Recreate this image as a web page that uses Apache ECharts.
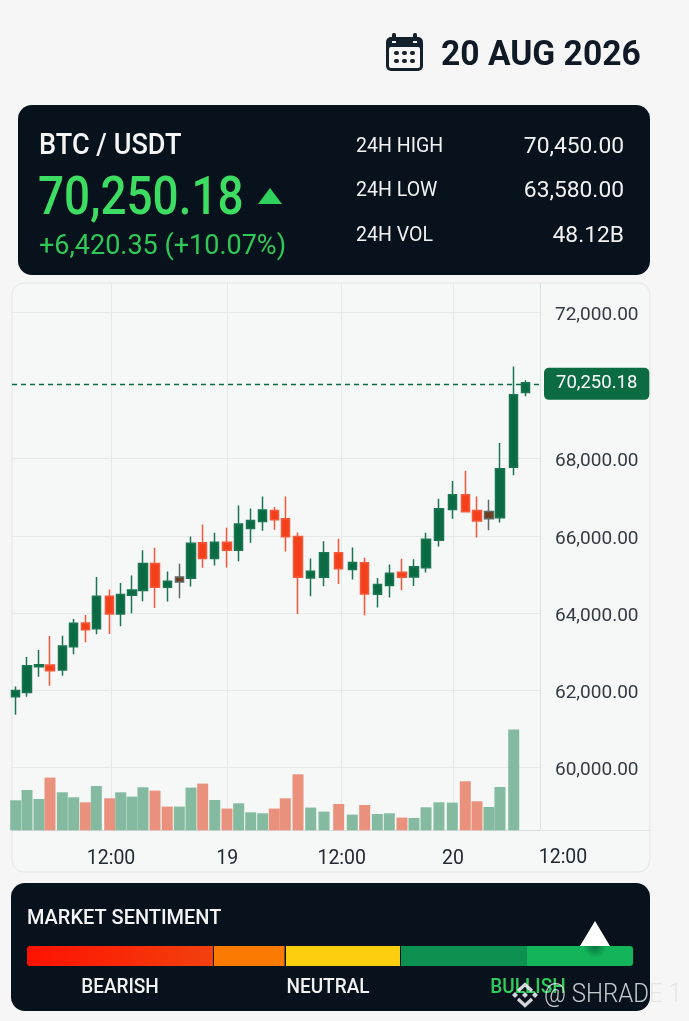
<!DOCTYPE html>
<html>
<head>
<meta charset="utf-8">
<style>html,body{margin:0;padding:0;background:#f6f6f6}#c{width:689px;height:1021px}</style>
<script src="https://cdn.jsdelivr.net/npm/echarts@6/dist/echarts.min.js"></script>
</head>
<body>
<div id="c"></div>
<script>
// hours from the first candle, read from each candle's position
const candleHours = [0,1.20,2.47,3.64,4.95,6.16,7.39,8.56,9.98,11.15,12.35,13.51,14.79,16.09,17.37,18.61,19.85,21.13,22.43,23.67,24.95,26.22,27.45,28.62,29.97,31.32,32.73,34.29,35.73,37.05,38.39,39.66,41.01,42.28,43.56,44.93,46.35,47.73,48.97,50.24,51.41,52.87,54.14];
// [open, close, low, high]
const candles = [
[61826,61990,61358,62094],[61938,62631,61826,62856],[62605,62657,62345,63038],[62648,62501,62111,63401],
[62518,63142,62371,63410],[63124,63730,62925,63843],[63739,63566,63237,63947],[63592,64432,63445,64934],
[64432,63973,63453,64605],[63973,64475,63652,64778],[64458,64596,63990,64968],[64579,65280,64302,65626],
[65280,64665,64129,65687],[64665,64821,64293,65072],[64934,64804,64380,65272],[64899,65808,64683,65981],
[65817,65410,65168,66293],[65410,65834,65228,66077],[65834,65626,65176,66207],[65626,66302,65341,66787],
[66189,66397,65817,66709],[66371,66665,66129,67020],[66657,66414,66155,66743],[66440,65973,65592,67021],
[65982,64925,63973,66085],[64908,65081,64432,65410],[64925,65557,64692,65860],[65557,65142,64752,65921],
[65124,65306,64865,65696],[65298,64492,63938,65427],[64484,64735,64137,64908],[64709,65029,64397,65254],
[65055,64925,64588,65401],[64934,65194,64700,65393],[65168,65912,65047,66077],[65886,66700,65722,66960],
[66683,67064,66440,67419],[67064,66622,66622,67687],[66657,66380,65956,67021],[66631,66440,66146,66934],
[66466,67739,66345,68406],[67774,69653,67566,70389],[69713,69964,69618,70034]
];
const mixedCandles = [14, 39];
const volumes = [30,40.3,31.3,52.7,38,33,28,44.3,32,38,33.7,43,39.7,23.7,23.7,42.7,46.7,30.3,21.7,27,18,17,21.7,32,56,22.7,18.7,26.3,15.7,25.3,16.3,17,12.7,12.3,23,28,27.7,49,29,23.3,43.3,100.7];
const volumeDown = [3,6,8,12,13,16,18,22,23,24,27,29,32,37,38];
// the reference's axis is not quite linear at the top: ticks sit where it draws them
const priceTicks = [60000,62000,64000,66000,68000,71800];
const priceTickLabels = ['60,000.00','62,000.00','64,000.00','66,000.00','68,000.00','72,000.00'];
const timeTicks = [10.12,22.46,34.61,46.42];
const timeLabels = ['12:00','19','12:00','20'];
const lastTimeLabel = '12:00';
const plottedLast = 69938;
const lastPriceText = '70,250.18';
const statRows = [['24H HIGH','70,450.00'],['24H LOW','63,580.00'],['24H VOL','48.12B']];
const sentimentLabels = [['BEARISH',120,'#f2f2f2'],['NEUTRAL',328,'#f2f2f2'],['BULLISH',528,'#2ecc5c']];

const F = 'Roboto';
const GREEN = '#0a6b43', RED = '#f4401a';
const DARK = '#07121c';

function txt(x, y, text, size, fill, weight, align, sx, z) {
  return {type:'text', x, y:y+2, scaleX:sx||1, z: z||10, style:{text, fontFamily:F, fontSize:size, fill, fontWeight:weight||400, align:align||'left', verticalAlign:'middle'}};
}
function rect(x, y, w, h, fill, r, extra) {
  return Object.assign({type:'rect', shape:{x,y,width:w,height:h,r:r||0}, style:{fill}}, extra||{});
}
function tri(cx, top, base, halfW, fill, z) {
  return {type:'polygon', z:z||10, shape:{points:[[cx,top],[cx+halfW,base],[cx-halfW,base]]}, style:{fill}};
}

const g = [];
g.push(rect(12,283,638,589,'#f6f7f7',12,{z:-10,style:{fill:'#f6f7f7',stroke:'#e3e5e7',lineWidth:1}}));
g.push(rect(18,105,632,170,DARK,14,{z:1}));
g.push(rect(11,883,639,128,DARK,14,{z:1}));
g.push({type:'line',z:1,shape:{x1:540,y1:830.5,x2:650,y2:830.5},style:{stroke:'#e3e5e7',lineWidth:1}});

// header: calendar icon
g.push(rect(386,37,37,34,'#14202c',5,{z:5}));
g.push(rect(389,47,31,21,'#f6f6f6',2,{z:6}));
g.push(rect(392,33,4,9,'#14202c',1.5,{z:7}));
g.push(rect(413,33,4,9,'#14202c',1.5,{z:7}));
g.push(rect(392,41,4,2,'#f6f6f6',0,{z:7}));
g.push(rect(413,41,4,2,'#f6f6f6',0,{z:7}));
[[394,51],[402,51],[410,51],[394,59],[402,59],[410,59]].forEach(p=>g.push(rect(p[0],p[1],5,4,'#14202c',2,{z:7})));
g.push(txt(441,54,'20 AUG 2026',35,'#101a26',700,'left',0.96));

// price card
g.push(txt(39,145,'BTC / USDT',29,'#f5f5f5',500,'left',0.935));
g.push(txt(38,199,'70,250.18',53,'#3ddc62',500,'left',0.866));
g.push(tri(270,188,204,12,'#2fd05c'));
g.push(txt(39,245,'+6,420.35 (+10.07%)',27,'#2fc958',400));
statRows.forEach((r,i)=>{
  const y=[145,189,234][i];
  g.push(txt(356,y,r[0],21,'#f2f2f2',400,'left',0.93));
  g.push(txt(624,y,r[1],22.8,'#f2f2f2',400,'right'));
});

g.push(txt(563,856,lastTimeLabel,19.5,'#222a33',400,'center'));

// sentiment
g.push(txt(27,917,'MARKET SENTIMENT',21,'#f5f5f5',500,'left',0.95));
g.push(rect(27,946,186,20,new echarts.graphic.LinearGradient(0,0,1,0,[{offset:0,color:'#ff1200'},{offset:1,color:'#f2400e'}]),[3,0,0,3],{z:5}));
g.push(rect(214,946,70.5,20,'#fb7a02',0,{z:5}));
g.push(rect(286,946,114,20,'#fdce10',0,{z:5}));
g.push(rect(401,946,126,20,'#0c9150',0,{z:5}));
g.push(rect(527,946,106,20,'#13b45a',[0,3,3,0],{z:5}));
g.push(rect(572,946,46,20,new echarts.graphic.RadialGradient(0.5,0,0.6,[{offset:0,color:'rgba(6,90,55,0.75)'},{offset:1,color:'rgba(6,90,55,0)'}]),0,{z:6}));
g.push(tri(595,921,946,15,'#ffffff',8));
sentimentLabels.forEach(s=>g.push(txt(s[1],986,s[0],20,s[2],500,'center',0.95)));

// watermark
g.push(txt(544,994,'@ SHRADE 1',25,'rgba(225,228,230,0.88)',300,'left',0.96,20));
[[525,995,3],[515,995,3],[535,995,3]].forEach(d=>{
  g.push({type:'polygon',z:20,shape:{points:[[d[0],d[1]-d[2]],[d[0]+d[2],d[1]],[d[0],d[1]+d[2]],[d[0]-d[2],d[1]]]},style:{fill:'rgba(230,232,234,0.92)'}});
});
[[[518,991],[525,984.5],[532,991]],[[518,999],[525,1005.5],[532,999]]].forEach(p=>{
  g.push({type:'polyline',z:20,shape:{points:p},style:{fill:'none',stroke:'rgba(230,232,234,0.92)',lineWidth:3.2}});
});

const candleData = candles.map((c,i)=>{
  const item = {value:[candleHours[i],c[0],c[1],c[2],c[3]]};
  if (mixedCandles.includes(i)) item.itemStyle = {color:'#6d3d1c',color0:'#6d3d1c',borderColor:'#5f6a68',borderColor0:'#5f6a68'};
  return item;
});
const volumeData = volumes.map((v,i)=>({
  value:[candleHours[i],v],
  itemStyle:{color: volumeDown.includes(i) ? '#ea917e' : '#83baa0'}
}));

const chart = echarts.init(document.getElementById('c'), null, {renderer:'canvas'});
chart.setOption({
  animation:false,
  backgroundColor:'#f6f6f6',
  graphic:{elements:g},
  grid:{left:12,right:149,top:283,bottom:190.7,containLabel:false,borderColor:'#e3e5e7'},
  xAxis:{
    type:'value',min:-0.393,max:55.66,
    axisLine:{show:true,lineStyle:{color:'#d9dcde',width:1}},
    axisTick:{show:false,customValues:timeTicks},
    axisLabel:{customValues:timeTicks,margin:19,fontFamily:F,fontSize:19.5,color:'#222a33',
      formatter:v=>{const i=timeTicks.indexOf(v);return i<0?'':timeLabels[i];}},
    splitLine:{show:true,lineStyle:{color:'#e6e8ea',width:1}}
  },
  yAxis:[{
    type:'value',position:'right',min:58364,max:72553,scale:true,
    axisLine:{show:true,onZero:false,lineStyle:{color:'#dcdfe1',width:1}},
    axisTick:{show:false,customValues:priceTicks},
    axisLabel:{customValues:priceTicks,margin:15,
      rich:{p:{padding:[6,0,0,0],fontFamily:F,fontSize:19,color:'#333b44'}},
      formatter:v=>{const i=priceTicks.indexOf(v);return i<0?'':'{p|'+priceTickLabels[i]+'}';}},
    splitLine:{show:true,lineStyle:{color:'#e6e8ea',width:1}}
  },{
    type:'value',min:0,max:547.3,show:false,splitLine:{show:false}
  }],
  series:[{
    type:'bar',xAxisIndex:0,yAxisIndex:1,barWidth:11,data:volumeData,z:2,encode:{x:0,y:1}
  },{
    type:'candlestick',xAxisIndex:0,yAxisIndex:0,barWidth:9,z:3,
    encode:{x:0,y:[1,2,3,4]},
    itemStyle:{color:GREEN,color0:RED,borderColor:'#1a7652',borderColor0:'#f4583a',borderWidth:1.5},
    data:candleData,
    markLine:{
      silent:true,symbol:'none',
      lineStyle:{color:'#0b6b43',type:[5,4],width:1.3,opacity:1},
      label:{show:true,position:'end',distance:4,formatter:lastPriceText,fontFamily:F,fontSize:18.5,color:'#fff',
        backgroundColor:'#0b6b43',borderRadius:5,padding:[7,12,6,12]},
      data:[{yAxis:plottedLast}]
    }
  }]
});
</script>
</body>
</html>
